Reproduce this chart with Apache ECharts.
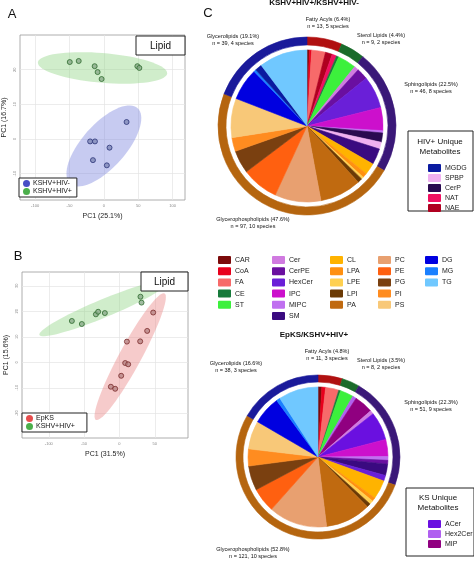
<!DOCTYPE html>
<html><head><meta charset="utf-8">
<script src="https://cdn.jsdelivr.net/npm/echarts@6/dist/echarts.min.js"></script>
<style>html,body{margin:0;padding:0;background:#fff}#c{width:474px;height:562px}</style>
</head><body><div id="c"></div>
<script>
// ---------- Panel A data ----------
const aGreen = [[-49.6,22.2],[-36.6,22.5],[-13.4,21.0],[-9.1,19.3],[-3.3,17.3],[48.7,21.0],[51.6,20.5]];
const aBlue = [[33,4.9],[-20,-0.7],[-13,-0.7],[8.2,-2.5],[-15.9,-6.1],[4.3,-7.6]];
const aGreenEll = {c:[-2,20.5], u:[94,-1.5], v:[0,4.3]};
const aBlueEll = {c:[0,-2], u:[49,10.9], v:[23.7,-4.2]};
const aXTicks = [-100,-50,0,50,100];
const aYTicks = [-10,0,10,20];
// ---------- Panel B data ----------
const bGreen = [[-67.4,16.2],[-53.3,15.0],[-33.4,18.8],[-30.2,19.8],[-20.7,19.3],[29.7,25.7],[31.2,23.4]];
const bRed = [[47.7,19.5],[39.2,12.3],[10.5,8.1],[29.3,8.2],[8.1,-0.3],[12.3,-0.8],[2.4,-5.3],[-12.2,-9.6],[-6.1,-10.4]];
const bGreenEll = {c:[-22,21.2], u:[91.4,10.5], v:[4.7,-3.3]};
const bRedEll = {c:[15.2,2.2], u:[48.6,24.8], v:[13.7,-2.0]};
const bXTicks = [-100,-50,0,50];
const bYTicks = [-20,-10,0,10,20,30];
// ---------- Pie data ----------
const colors = {CAR:'#7b0a0a',CoA:'#e8001c',FA:'#f76a6a',CE:'#177a3b',ST:'#3cf03c',Cer:'#d07ae0',CerPE:'#6a0fa0',HexCer:'#6a1fd8',IPC:'#cc10cc',MIPC:'#c070f0',SM:'#3a0a80',CL:'#ffb300',LPA:'#ff9010',LPE:'#ffd050',LPI:'#6b3a05',PA:'#c06a10',PC:'#e8a070',PE:'#ff6010',PG:'#7a4010',PI:'#ff8c20',PS:'#f8c878',DG:'#0000e0',MG:'#1a80ff',TG:'#70c8ff',MGDG:'#0a1aa0',SPBP:'#f0b0f0',CerP:'#2a0a50',NAT:'#f01060',NAE:'#b00020',ACer:'#6a10e0',Hex2Cer:'#b060f0',MIP:'#900080',
 'Fatty Acyls':'#b01010','Sterol Lipids':'#1a6b2a','Sphingolipids':'#3a1878','Glycerophospholipids':'#b5650f','Glycerolipids':'#1a1a9a'};
const classNames = ['Fatty Acyls','Sterol Lipids','Sphingolipids','Glycerophospholipids','Glycerolipids'];
const topClassN = [13,9,46,97,39];
const topSpecies = ['CAR','CoA','FA','NAE','NAT','CE','ST','Cer','CerPE','HexCer','IPC','MIPC','CerP','SPBP','SM','CL','LPA','LPE','LPI','PA','PC','PE','PG','PI','PS','DG','MG','MGDG','TG'];
const topSpeciesN = [1,1,6,3,2,1,8,2,5,14,10,1,4,3,7,5,2,1,2,18,20,16,10,6,17,14,1,3,21];
const botClassN = [11,8,51,121,38];
const botSpecies = ['CAR','CoA','FA','CE','ST','Hex2Cer','MIP','Cer','ACer','IPC','MIPC','CerPE','SM','HexCer','CL','LPA','LPE','LPI','PA','PC','PE','PG','PI','PS','DG','MG','TG'];
const botSpeciesN = [2,2,7,1,7,2,10,2,15,9,2,2,6,3,10,2,2,2,24,31,13,13,9,15,15,2,21];
const legendCols = [['CAR','CoA','FA','CE','ST'],['Cer','CerPE','HexCer','IPC','MIPC','SM'],['CL','LPA','LPE','LPI','PA'],['PC','PE','PG','PI','PS'],['DG','MG','TG']];
const hivUnique = ['MGDG','SPBP','CerP','NAT','NAE'];
const ksUnique = ['ACer','Hex2Cer','MIP'];
const topLabels = [['Glycerolipids (19.1%)\nn = 39, 4 species',233,40],['Fatty Acyls (6.4%)\nn = 13, 5 species',328,23],['Sterol Lipids (4.4%)\nn = 9, 2 species',381,39],['Sphingolipids (22.5%)\nn = 46, 8 species',431,88],['Glycerophospholipids (47.6%)\nn = 97, 10 species',253,223]];
const botLabels = [['Glycerolipids (16.6%)\nn = 38, 3 species',236,367],['Fatty Acyls (4.8%)\nn = 11, 3 species',327,355],['Sterol Lipids (3.5%)\nn = 8, 2 species',381,364],['Sphingolipids (22.3%)\nn = 51, 9 species',431,406],['Glycerophospholipids (52.8%)\nn = 121, 10 species',253,553]];

const F = 'Liberation Sans, Arial, sans-serif';
function ellSeries(e, xi, fill){
  return {type:'custom', xAxisIndex:xi, yAxisIndex:xi, silent:true, z:1, clip:true, data:[[e.c[0],e.c[1]]],
    renderItem:function(p, api){
      const pts=[];
      for(let i=0;i<72;i++){const t=i/72*2*Math.PI;
        pts.push(api.coord([e.c[0]+Math.cos(t)*e.u[0]+Math.sin(t)*e.v[0], e.c[1]+Math.cos(t)*e.u[1]+Math.sin(t)*e.v[1]]));}
      return {type:'polygon', shape:{points:pts}, style:{fill:fill}};
    }};
}
function pts(name, data, xi, fill, border){
  return {type:'scatter', name:name, xAxisIndex:xi, yAxisIndex:xi, data:data, symbolSize:5, z:3,
    itemStyle:{color:fill, borderColor:border, borderWidth:1}};
}
function xAxis(gi, min, max, ticks, name){
  return {type:'value', gridIndex:gi, min:min, max:max, name:name, nameLocation:'middle', nameGap:13,
    nameTextStyle:{fontSize:7, color:'#222', fontFamily:F},
    axisLine:{show:false}, axisTick:{show:false, customValues:ticks},
    axisLabel:{customValues:ticks, fontSize:4, color:'#888', margin:4},
    splitLine:{show:true, lineStyle:{color:'#e4e4e4', width:0.7}}};
}
function yAxis(gi, min, max, ticks, name){
  return {type:'value', gridIndex:gi, min:min, max:max, name:name, nameLocation:'middle', nameGap:12,
    nameTextStyle:{fontSize:7, color:'#222', fontFamily:F},
    axisLine:{show:false}, axisTick:{show:false, customValues:ticks},
    axisLabel:{customValues:ticks, fontSize:4, color:'#888', margin:3, rotate:90},
    splitLine:{show:true, lineStyle:{color:'#e4e4e4', width:0.7}}};
}
function pieData(names, vals){return names.map((n,i)=>({name:n, value:vals[i], itemStyle:{color:colors[n], borderColor:colors[n], borderWidth:0.6}}));}
function pie(center, radius, data){
  return {type:'pie', center:center, radius:radius, silent:true, padAngle:0, minAngle:0,
    label:{show:false}, labelLine:{show:false}, emphasis:{disabled:true},
    itemStyle:{borderRadius:0, borderWidth:0.6}, data:data};
}
const graphic = [];
function txt(t,x,y,size,opt){graphic.push(Object.assign({type:'text', x:x, y:y, style:{text:t, fontSize:size, fontFamily:F, fill:'#111', textAlign:'center', textVerticalAlign:'middle', lineHeight:size+1}},opt||{}));}
function box(x,y,w,h){graphic.push({type:'rect', shape:{x:x,y:y,width:w,height:h}, style:{fill:'#fff', stroke:'#222', lineWidth:1}, z:5});}
txt('A',12,14,13,{});
txt('B',18,256,13,{});
txt('C',208,13,13,{});
box(136,36,49,19); txt('Lipid',160.5,46,10,{z:6});
box(141,272,47,19); txt('Lipid',164.5,282,10,{z:6});
topLabels.forEach(l=>txt(l[0],l[1],l[2],5.5,{}));
botLabels.forEach(l=>txt(l[0],l[1],l[2],5.5,{}));
txt('',0,0,1,{style:{text:'KSHV+HIV+/KSHV+HIV-',fontSize:8,fontWeight:'bold',fontFamily:F,fill:'#111',textAlign:'center',textVerticalAlign:'middle'},x:314,y:3});
txt('',0,0,1,{style:{text:'EpKS/KSHV+HIV+',fontSize:8,fontWeight:'bold',fontFamily:F,fill:'#111',textAlign:'center',textVerticalAlign:'middle'},x:314,y:335});
box(408,131,65,80); txt('',0,0,1,{x:440,y:147,z:6,style:{text:'HIV+ Unique\nMetabolites',fontSize:8,fontFamily:F,fill:'#111',textAlign:'center',textVerticalAlign:'middle',lineHeight:10}});
box(406,488,68,68); txt('',0,0,1,{x:438,y:503,z:6,style:{text:'KS Unique\nMetabolites',fontSize:8,fontFamily:F,fill:'#111',textAlign:'center',textVerticalAlign:'middle',lineHeight:10}});

const legends = [
  {data:[{name:'KSHV+HIV-',itemStyle:{color:'#1a22b8',borderWidth:0}},{name:'KSHV+HIV+ ',itemStyle:{color:'#1e9a1e',borderWidth:0}}], left:19, top:178, orient:'vertical', itemGap:1, itemWidth:7, itemHeight:7, icon:'circle',
   backgroundColor:'#fff', borderColor:'#222', borderWidth:1, padding:[2,3,2,4], textStyle:{fontSize:7,fontFamily:F,color:'#111',padding:[0,0,0,-2]}},
  {data:[{name:'EpKS',itemStyle:{color:'#e02020',borderWidth:0}},{name:'KSHV+HIV+',itemStyle:{color:'#1e9a1e',borderWidth:0}}], left:22, top:413, orient:'vertical', itemGap:1, itemWidth:7, itemHeight:7, icon:'circle',
   backgroundColor:'#fff', borderColor:'#222', borderWidth:1, padding:[2,12,2,4], textStyle:{fontSize:7,fontFamily:F,color:'#111',padding:[0,0,0,-2]}},
];
const colX = [213,267,325,373,420];
legendCols.forEach((c,i)=>legends.push({data:c, left:colX[i], top:251, orient:'vertical', itemGap:3.2, itemWidth:11, itemHeight:6, icon:'rect', selectedMode:false, textStyle:{fontSize:7, fontFamily:F, color:'#222'}}));
legends.push({data:hivUnique, left:423, top:159, orient:'vertical', itemGap:2, itemWidth:11, itemHeight:6, icon:'rect', selectedMode:false, z:7, textStyle:{fontSize:7,fontFamily:F,color:'#222'}});
legends.push({data:ksUnique, left:423, top:515, orient:'vertical', itemGap:2, itemWidth:11, itemHeight:6, icon:'rect', selectedMode:false, z:7, textStyle:{fontSize:7,fontFamily:F,color:'#222'}});

const option = {
  animation:false, backgroundColor:'#fff', graphic:graphic, legend:legends,
  grid:[{left:19, top:35, width:166, height:165, show:true, borderColor:'#999', borderWidth:0.8},
        {left:22, top:272, width:166, height:166, show:true, borderColor:'#999', borderWidth:0.8}],
  xAxis:[xAxis(0,-122,118,aXTicks,'PC1 (25.1%)'), xAxis(1,-138,97,bXTicks,'PC1 (31.5%)')],
  yAxis:[yAxis(0,-17.6,30,aYTicks,'PC1 (16.7%)'), yAxis(1,-29.7,35.4,bYTicks,'PC1 (15.6%)')],
  series:[
    ellSeries(aGreenEll,0,'rgba(150,215,140,0.45)'), ellSeries(aBlueEll,0,'rgba(130,140,225,0.45)'),
    pts('KSHV+HIV-',aBlue,0,'#8088b8','#2c3478'), pts('KSHV+HIV+ ',aGreen,0,'#8aaa8a','#2e6b2e'),
    ellSeries(bGreenEll,1,'rgba(150,215,140,0.45)'), ellSeries(bRedEll,1,'rgba(235,140,140,0.45)'),
    pts('EpKS',bRed,1,'#b88484','#7a2a2a'), pts('KSHV+HIV+',bGreen,1,'#8aaa8a','#2e6b2e'),
    pie([307,126],[81,89],pieData(classNames,topClassN)),
    pie([307,126],[0,76],pieData(topSpecies,topSpeciesN)),
    pie([318,457],[75,82],pieData(classNames,botClassN)),
    pie([318,457],[0,70],pieData(botSpecies,botSpeciesN))
  ]
};
echarts.init(document.getElementById('c')).setOption(option);
</script></body></html>
